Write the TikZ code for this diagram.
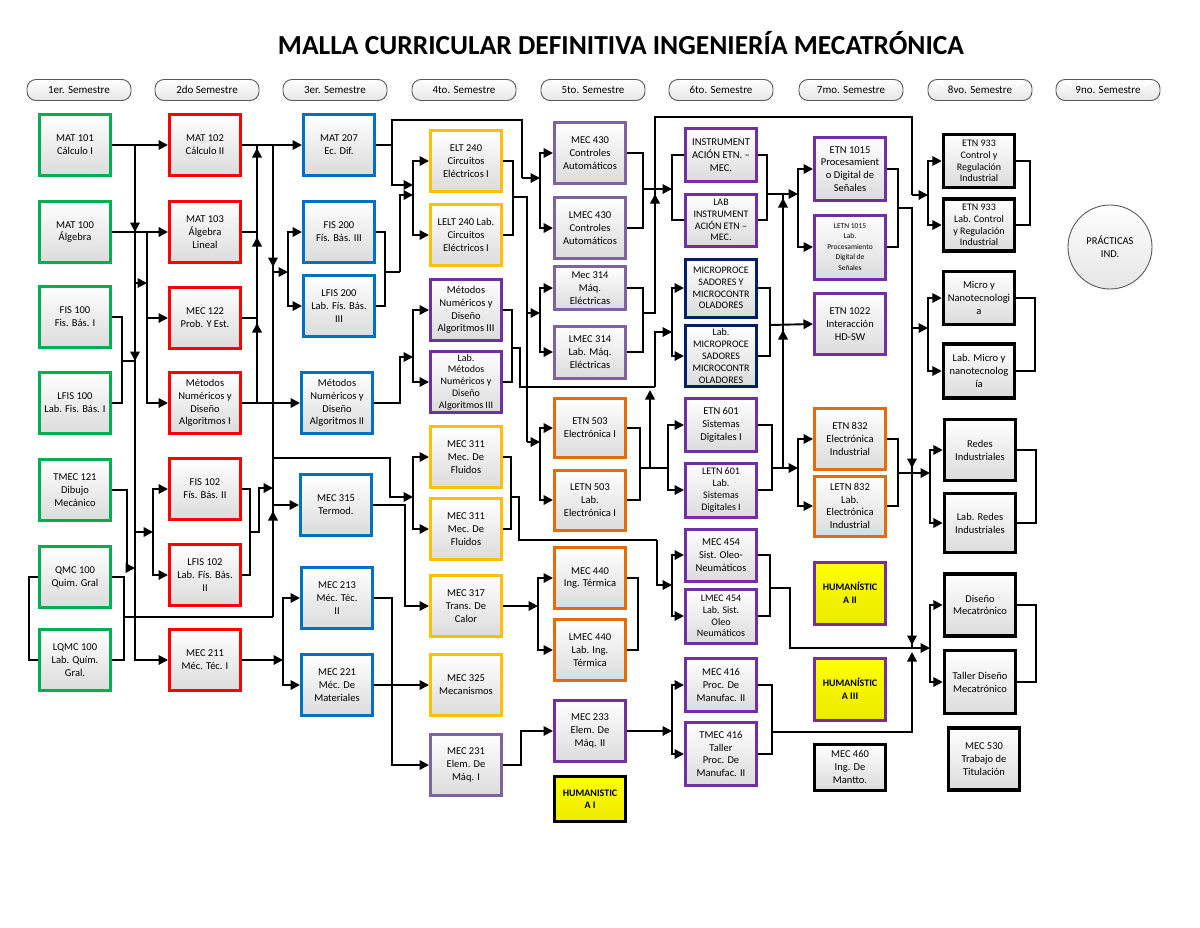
\documentclass[tikz,border=0pt]{standalone}
\usepackage{fontspec}
\setmainfont{Carlito}
\usetikzlibrary{arrows.meta}

\definecolor{cverde}{HTML}{00B050}
\definecolor{crojo}{HTML}{FF0000}
\definecolor{cazul}{HTML}{0070C0}
\definecolor{coro}{HTML}{FFC000}
\definecolor{cmorado}{HTML}{7030A0}
\definecolor{clila}{HTML}{7E649E}
\definecolor{cmarino}{HTML}{002060}
\definecolor{cnaranja}{HTML}{E46C0A}

\tikzset{
  subj/.style={draw, line width=3pt, top color=white, bottom color=black!14,
    minimum width=71pt, minimum height=61pt, inner sep=1pt, align=center,
    font=\fontsize{10.5}{12.8}\selectfont},
  apretado/.style={font=\fontsize{10}{11.8}\selectfont},
  hum/.style={subj, top color=yellow, bottom color=yellow!92!black, font=\fontsize{10}{12.5}\selectfont\bfseries},
  semestre/.style={draw=black!65, line width=0.9pt, rounded corners=9pt, top color=white,
    bottom color=black!10, minimum width=104pt, minimum height=21pt, inner sep=1pt,
    font=\fontsize{11}{12}\selectfont},
  conn/.style={line width=1.9pt},
  arr/.style={conn, -{Triangle[length=9.5pt,width=9.5pt]}},
}

\begin{document}
\begin{tikzpicture}[x=1pt,y=-1pt]
\fill[white] (0,0) rectangle (1200,927);
\useasboundingbox (0,0) rectangle (1200,927);

% title
\node[font=\fontsize{27.5}{32}\selectfont\bfseries] (titulo) at (621,43) {MALLA CURRICULAR DEFINITIVA INGENIERÍA MECATRÓNICA};

% semesters
\foreach \x/\s [count=\i] in {79/1er. Semestre, 207/2do Semestre, 335/3er. Semestre,
    464/4to. Semestre, 593/5to. Semestre, 721/6to. Semestre, 851/7mo. Semestre,
    980/8vo. Semestre, 1108/9no. Semestre}
  \node[semestre] (sem\i) at (\x,90) {\s};

% 1er semestre
\node[subj, draw=cverde] (m101) at (75,145) {MAT 101\\Cálculo I};
\node[subj, draw=cverde] (m100) at (75,232) {MAT 100\\Álgebra};
\node[subj, draw=cverde] (f100) at (75,317) {FIS 100\\Fis. Bás. I};
\node[subj, draw=cverde] (lf100) at (75,403) {LFIS 100\\Lab. Fis. Bás. I};
\node[subj, draw=cverde] (tm121) at (75,490) {TMEC 121\\Dibujo\\Mecánico};
\node[subj, draw=cverde] (q100) at (75,577) {QMC 100\\Quim. Gral};
\node[subj, draw=cverde] (lq100) at (75,660) {LQMC 100\\Lab. Quím.\\Gral.};

% 2do semestre
\node[subj, draw=crojo] (m102) at (205,145) {MAT 102\\Cálculo II};
\node[subj, draw=crojo] (m103) at (205,232) {MAT 103\\Álgebra\\Lineal};
\node[subj, draw=crojo] (mec122) at (205,318) {MEC 122\\Prob. Y Est.};
\node[subj, draw=crojo] (mn1) at (205,403) {Métodos\\Numéricos y\\Diseño\\Algoritmos I};
\node[subj, draw=crojo] (f102) at (205,489) {FIS 102\\Fís. Bás. II};
\node[subj, draw=crojo] (lf102) at (205,575) {LFIS 102\\Lab. Fís. Bás.\\II};
\node[subj, draw=crojo] (mec211) at (205,660) {MEC 211\\Méc. Téc. I};

% 3er semestre
\node[subj, draw=cazul] (m207) at (339,145) {MAT 207\\Ec. Dif.};
\node[subj, draw=cazul] (f200) at (339,232) {FIS 200\\Fís. Bás. III};
\node[subj, draw=cazul] (lf200) at (339,306) {LFIS 200\\Lab. Fís. Bás.\\III};
\node[subj, draw=cazul] (mn2) at (337,403) {Métodos\\Numéricos y\\Diseño\\Algoritmos II};
\node[subj, draw=cazul] (mec315) at (336,505) {MEC 315\\Termod.};
\node[subj, draw=cazul] (mec213) at (337,598) {MEC 213\\Méc. Téc.\\II};
\node[subj, draw=cazul] (mec221) at (337,685) {MEC 221\\Méc. De\\Materiales};

% 4to semestre
\node[subj, draw=coro] (elt240) at (466,161) {ELT 240\\Circuitos\\Eléctricos I};
\node[subj, draw=coro] (lelt240) at (466,235) {LELT 240 Lab.\\Circuitos\\Eléctricos I};
\node[subj, draw=cmorado] (mn3) at (466,310) {Métodos\\Numéricos y\\Diseño\\Algoritmos III};
\node[subj, draw=cmorado, apretado] (lmn3) at (466,382) {Lab.\\Métodos\\Numéricos y\\Diseño\\Algoritmos III};
\node[subj, draw=coro] (mec311a) at (466,457) {MEC 311\\Mec. De\\Fluidos};
\node[subj, draw=coro] (mec311b) at (466,529) {MEC 311\\Mec. De\\Fluidos};
\node[subj, draw=coro] (mec317) at (466,606) {MEC 317\\Trans. De\\Calor};
\node[subj, draw=coro] (mec325) at (466,685) {MEC 325\\Mecanismos};
\node[subj, draw=clila] (mec231) at (466,765) {MEC 231\\Elem. De\\Máq. I};

% 5to semestre
\node[subj, draw=clila] (mec430) at (590,153) {MEC 430\\Controles\\Automáticos};
\node[subj, draw=clila] (lmec430) at (590,228) {LMEC 430\\Controles\\Automáticos};
\node[subj, draw=clila, minimum height=43pt] (mec314) at (590,288) {Mec 314\\Máq.\\Eléctricas};
\node[subj, draw=clila, minimum height=52pt] (lmec314) at (590,352) {LMEC 314\\Lab. Máq.\\Eléctricas};
\node[subj, draw=cnaranja, minimum height=59pt] (etn503) at (590,428) {ETN 503\\Electrónica I};
\node[subj, draw=cnaranja, minimum height=60pt] (letn503) at (590,500) {LETN 503\\Lab.\\Electrónica I};
\node[subj, draw=cnaranja] (mec440) at (590,578) {MEC 440\\Ing. Térmica};
\node[subj, draw=cnaranja] (lmec440) at (590,650) {LMEC 440\\Lab. Ing.\\Térmica};
\node[subj, draw=cmorado] (mec233) at (590,731) {MEC 233\\Elem. De\\Máq. II};
\node[hum, draw=black, minimum height=45pt] (hum1) at (590,799) {HUMANISTIC\\A I};

% 6to semestre
\node[subj, draw=cmorado, minimum height=53pt] (instr) at (721,155) {INSTRUMENT\\ACIÓN ETN. --\\MEC.};
\node[subj, draw=cmorado, minimum height=52pt, apretado] (linstr) at (721,220) {LAB\\INSTRUMENT\\ACIÓN ETN --\\MEC.};
\node[subj, draw=cmarino, minimum height=58pt, apretado] (micro) at (721,288) {MICROPROCE\\SADORES Y\\MICROCONTR\\OLADORES};
\node[subj, draw=cmarino, minimum height=61pt, apretado] (lmicro) at (721,356) {Lab.\\MICROPROCE\\SADORES\\MICROCONTR\\OLADORES};
\node[subj, draw=cmorado, minimum height=53pt] (etn601) at (721,425) {ETN 601\\Sistemas\\Digitales I};
\node[subj, draw=cmorado, minimum height=54pt, apretado] (letn601) at (721,490) {LETN 601\\Lab.\\Sistemas\\Digitales I};
\node[subj, draw=cmorado, minimum height=52pt] (mec454) at (721,555) {MEC 454\\Sist. Oleo-\\Neumáticos};
\node[subj, draw=cmorado, minimum height=54pt, apretado] (lmec454) at (721,616) {LMEC 454\\Lab. Sist.\\Oleo\\Neumáticos};
\node[subj, draw=cmorado, minimum height=53pt] (mec416) at (721,685) {MEC 416\\Proc. De\\Manufac. II};
\node[subj, draw=cmorado, minimum height=63pt] (tmec416) at (721,754) {TMEC 416\\Taller\\Proc. De\\Manufac. II};

% 7mo semestre
\node[subj, draw=cmorado, minimum height=63pt] (etn1015) at (850,169) {ETN 1015\\Procesamient\\o Digital de\\Señales};
\node[subj, draw=cmorado, minimum height=64pt, font=\fontsize{7.5}{10.5}\selectfont] (letn1015) at (850,247) {LETN 1015\\Lab.\\Procesamiento\\Digital de\\Señales};
\node[subj, draw=cmorado] (etn1022) at (850,324) {ETN 1022\\Interacción\\HD-SW};
\node[subj, draw=cnaranja] (etn832) at (850,439) {ETN 832\\Electrónica\\Industrial};
\node[subj, draw=cnaranja, minimum height=60pt] (letn832) at (850,506) {LETN 832\\Lab.\\Electrónica\\Industrial};
\node[hum, draw=cmorado, minimum height=62pt] (hum2) at (850,593) {HUMANÍSTIC\\A II};
\node[hum, draw=cmorado, minimum height=62pt] (hum3) at (850,689) {HUMANÍSTIC\\A III};
\node[subj, draw=black, minimum height=46pt] (mec460) at (850,767) {MEC 460\\Ing. De\\Mantto.};

% 8vo semestre
\node[subj, draw=black, line width=3.5pt, minimum height=53pt, apretado] (etn933) at (979,161) {ETN 933\\Control y\\Regulación\\Industrial};
\node[subj, draw=black, line width=3.5pt, minimum height=52pt, apretado] (letn933) at (979,225) {ETN 933\\Lab. Control\\y Regulación\\Industrial};
\node[subj, draw=black, line width=3.5pt, minimum height=53pt] (nano) at (979,298) {Micro y\\Nanotecnologi\\a};
\node[subj, draw=black, line width=3.5pt, minimum height=54pt] (lnano) at (979,371) {Lab. Micro y\\nanotecnolog\\ía};
\node[subj, draw=black, line width=3.5pt, minimum height=61pt] (redes) at (980,450) {Redes\\Industriales};
\node[subj, draw=black, line width=3.5pt, minimum height=59pt] (lredes) at (980,523) {Lab. Redes\\Industriales};
\node[subj, draw=black, line width=3.5pt, minimum height=62pt] (diseno) at (980,605) {Diseño\\Mecatrónico};
\node[subj, draw=black, line width=3.5pt, minimum height=63pt] (taller) at (980,682) {Taller Diseño\\Mecatrónico};
\node[subj, draw=black, line width=3.5pt, minimum height=62pt] (mec530) at (984,759) {MEC 530\\Trabajo de\\Titulación};

% 9no semestre
\node[circle, draw=black!65, line width=0.9pt, minimum size=84pt, top color=white, bottom color=black!10,
  align=center, font=\fontsize{10.5}{12.8}\selectfont] (practicas) at (1110,247) {PRÁCTICAS\\IND.};

% 1er -> 2do
\draw[arr] (m101.east) -- (m102.west);
\draw[conn] (135,145) -- (135,361);
\draw[arr] (135,210) -- (135,232);
\draw[arr] (135,340) -- (135,361);
\draw[arr] (135,361) |- (mec211.west);
\draw[arr, line width=2.6pt] (m100.east) -- (m103.west);
\draw[arr] (147,232) |- (mn1.west);
\draw[arr] (147,318) -- (mec122.west);
\draw[arr] (135,283) -- (147,283);
\draw[conn] (f100.east) -| (122,361);
\draw[conn] (lf100.east) -| (122,361) -- (135,361);
\draw[arr] (135,532) -- (153,532);
\draw[arr] (153,532) |- (f102.west);
\draw[arr] (153,532) |- (lf102.west);
\draw[arr] (tm121.east) -| (127,568) -- (135,568);
\draw[conn] (q100.west) -- ++(-9,0) |- (lq100.west);
\draw[conn] (q100.east) -| (124,617);
\draw[conn] (lq100.east) -| (124,617) -- (273,617);

% 2do -> 3er
\draw[arr] (m102.east) -- (m207.west);
\draw[conn] (m103.east) -- (257,232);
\draw[conn] (mec122.east) -- (257,318);
\draw[arr] (mn1.east) -- (mn2.west);
\draw[conn] (257,403) -- (257,145);
\draw[arr] (257,345) -- (257,323);
\draw[arr] (257,258) -- (257,237);
\draw[arr] (257,170) -- (257,148);
\draw[conn] (273,145) -- (273,617);
\draw[arr] (273,245) -- (273,267);
\draw[arr] (273,535) -- (273,511);
\draw[arr] (273,272) -- (288,272);
\draw[arr] (288,272) |- (f200.west);
\draw[arr] (288,272) |- (lf200.west);
\draw[arr] (273,505) -- (mec315.west);
\draw[conn] (f102.east) -| (250,532);
\draw[conn] (lf102.east) -| (250,532);
\draw[arr] (250,532) -- (259,532) |- (273,488);
\draw[arr] (273,458) -| (390,497) -- (413,497);
\draw[arr] (413,497) |- (mec311a.west);
\draw[arr] (413,497) |- (mec311b.west);
\draw[arr] (mec211.east) -- (283,660);
\draw[arr] (283,660) |- (mec213.west);
\draw[arr] (283,660) |- (mec221.west);

% 3er -> 4to
\draw[conn] (m207.east) -- (392,145);
\draw[arr] (392,145) |- (413,185);
\draw[conn] (392,145) |- (522,120) -- (522,178);
\draw[arr] (522,178) -- (540,178);
\draw[conn] (f200.east) -| (385,272);
\draw[conn] (lf200.east) -| (385,272) -- (400,272);
\draw[arr] (400,272) |- (413,195);
\draw[arr] (413,190) |- (elt240.west);
\draw[arr] (413,190) |- (lelt240.west);
\draw[arr] (mn2.east) -| (400,357) -- (413,357);
\draw[arr] (413,357) |- (mn3.west);
\draw[arr] (413,357) |- (lmn3.west);
\draw[arr] (mec315.east) -| (405,606) -- (mec317.west);
\draw[arr] (mec213.east) -| (392,765) -- (mec231.west);
\draw[arr] (mec221.east) -- (mec325.west);

% 4to -> 5to
\draw[conn] (elt240.east) -| (513,197);
\draw[conn] (lelt240.east) -| (513,197) -- (527,197) -- (527,442);
\draw[arr] (527,313) -- (540,313);
\draw[arr] (527,442) -- (540,442);
\draw[arr] (540,178) |- (mec430.west);
\draw[arr] (540,178) |- (lmec430.west);
\draw[arr] (540,313) |- (mec314.west);
\draw[arr] (540,313) |- (lmec314.west);
\draw[arr] (540,442) |- (etn503.west);
\draw[arr] (540,442) |- (letn503.west);
\draw[conn] (mn3.east) -| (512,348);
\draw[conn] (lmn3.east) -| (512,348) -- (520,348) |- (655,387);
\draw[arr] (655,387) |- (672,332);
\draw[conn] (mec311a.east) -| (511,497);
\draw[conn] (mec311b.east) -| (511,497) -- (519,497) |- (657,540);
\draw[arr] (657,540) |- (672,585);
\draw[arr] (mec317.east) -- (538,606);
\draw[arr] (538,606) |- (mec440.west);
\draw[arr] (538,606) |- (lmec440.west);
\draw[conn] (mec440.east) -- ++(11,0) |- (lmec440.east);
\draw[arr] (mec231.east) -- ++(18,0) |- (mec233.west);

% 5to -> 6to
\draw[conn] (mec430.east) -| (643,189);
\draw[conn] (lmec430.east) -| (643,189);
\draw[arr] (643,189) -- (672,189);
\draw[conn] (672,189) |- (instr.west);
\draw[conn] (672,189) |- (linstr.west);
\draw[conn] (mec314.east) -| (643,313);
\draw[conn] (lmec314.east) -| (643,313) -- (655,313) -- (655,117) -| (912,195);
\draw[arr] (655,240) -- (655,194);
\draw[arr] (672,332) |- (micro.west);
\draw[arr] (672,332) |- (lmicro.west);
\draw[conn] (etn503.east) -| (640,468);
\draw[conn] (letn503.east) -| (640,468) -- (668,468);
\draw[arr] (650,468) -- (650,390);
\draw[arr] (668,468) |- (etn601.west);
\draw[arr] (668,468) |- (letn601.west);
\draw[arr] (672,585) |- (mec454.west);
\draw[arr] (672,585) |- (lmec454.west);
\draw[arr] (mec233.east) -- (672,731);
\draw[arr] (672,731) |- (mec416.west);
\draw[arr] (672,731) |- (tmec416.west);

% 6to -> 7mo
\draw[conn] (instr.east) -- ++(9,0) |- (linstr.east);
\draw[arr] (768,194) -- (798,194);
\draw[arr] (798,194) |- (etn1015.west);
\draw[arr] (798,194) |- (letn1015.west);
\draw[conn] (micro.east) -- ++(12,0) |- (lmicro.east);
\draw[arr] (771,325) -- (etn1022.west);
\draw[conn] (etn601.east) -- ++(14,0) |- (letn601.east);
\draw[arr] (772,468) -- (798,468);
\draw[arr] (798,468) |- (etn832.west);
\draw[arr] (798,468) |- (letn832.west);
\draw[conn] (783,468) -- (783,194);
\draw[arr] (783,352) -- (783,330);
\draw[arr] (783,220) -- (783,198);
\draw[conn] (mec454.east) -- ++(12,0) |- (lmec454.east);
\draw[conn] (770,588) -| (790,648) -- (912,648);
\draw[conn] (mec416.east) -- ++(14,0) |- (tmec416.east);
\draw[arr] (772,732) -| (912,652);

% 7mo -> 8vo
\draw[arr] (912,195) -- (928,195);
\draw[arr] (928,195) |- (etn933.west);
\draw[arr] (928,195) |- (letn933.west);
\draw[conn] (etn1015.east) -- ++(11,0) |- (letn1015.east);
\draw[conn] (898,208) -| (912,648);
\draw[arr] (912,445) -- (912,468);
\draw[arr] (912,622) -- (912,645);
\draw[arr] (912,328) -- (928,328);
\draw[arr] (928,328) |- (nano.west);
\draw[arr] (928,328) |- (lnano.west);
\draw[conn] (etn832.east) -- ++(11,0) |- (letn832.east);
\draw[arr] (898,473) -- (930,473);
\draw[arr] (930,473) |- (redes.west);
\draw[arr] (930,473) |- (lredes.west);
\draw[arr] (912,648) -- (930,648);
\draw[arr] (930,648) |- (diseno.west);
\draw[arr] (930,648) |- (taller.west);
\draw[conn] (etn933.east) -- ++(14,0) |- (letn933.east);
\draw[conn] (nano.east) -- ++(19,0) |- (lnano.east);
\draw[conn] (redes.east) -- ++(19,0) |- (lredes.east);
\draw[conn] (diseno.east) -- ++(19,0) |- (taller.east);
\end{tikzpicture}
\end{document}
